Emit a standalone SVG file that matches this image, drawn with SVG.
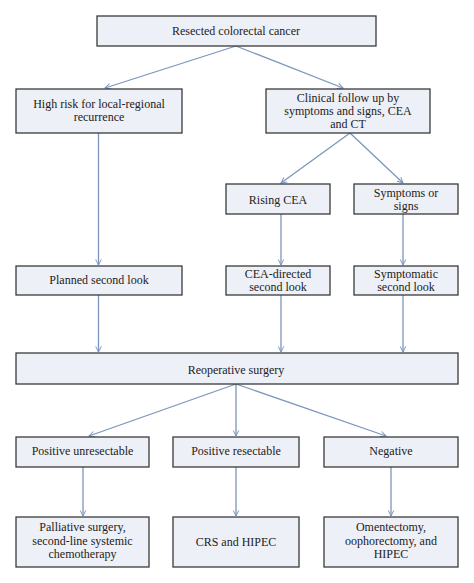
<svg xmlns="http://www.w3.org/2000/svg" width="474" height="583" viewBox="0 0 474 583">
<defs>
<marker id="ah" viewBox="0 0 10 10" refX="9" refY="5" markerWidth="7" markerHeight="7" markerUnits="userSpaceOnUse" orient="auto">
<path d="M1,1 L9,5 L1,9" fill="none" stroke="#7b96bb" stroke-width="1.4"/>
</marker>
<style>
.box{fill:#eef0f7;stroke:#3a3a3a;stroke-width:1.3}
.t{font-family:"Liberation Serif","Times New Roman",serif;font-size:12px;fill:#222;text-anchor:middle}
.c{stroke:#7b96bb;stroke-width:1.3;fill:none;marker-end:url(#ah)}
</style>
</defs>
<rect width="474" height="583" fill="#ffffff"/>
<g id="connectors">
<line class="c" x1="236" y1="46" x2="105" y2="88"/>
<line class="c" x1="236" y1="46" x2="343" y2="88"/>
<line class="c" x1="350" y1="133" x2="281" y2="183"/>
<line class="c" x1="350" y1="133" x2="403" y2="183"/>
<line class="c" x1="98.5" y1="133" x2="98.5" y2="265"/>
<line class="c" x1="281" y1="214" x2="281" y2="265"/>
<line class="c" x1="403" y1="214" x2="403" y2="265"/>
<line class="c" x1="98.5" y1="295" x2="98.5" y2="352"/>
<line class="c" x1="281" y1="295" x2="281" y2="352"/>
<line class="c" x1="403" y1="295" x2="403" y2="352"/>
<line class="c" x1="236" y1="384" x2="89" y2="436"/>
<line class="c" x1="236" y1="384" x2="236" y2="436"/>
<line class="c" x1="236" y1="384" x2="386" y2="436"/>
<line class="c" x1="83" y1="467" x2="83" y2="516"/>
<line class="c" x1="236" y1="467" x2="236" y2="516"/>
<line class="c" x1="391" y1="467" x2="391" y2="516"/>
</g>
<g id="n1"><rect class="box" x="97" y="16" width="279" height="30"/><text class="t" x="236" y="35">Resected colorectal cancer</text></g>
<g id="n2"><rect class="box" x="16" y="89" width="166" height="44"/><text class="t" x="99" y="108">High risk for local-regional</text><text class="t" x="99" y="121">recurrence</text></g>
<g id="n3"><rect class="box" x="266" y="89" width="164" height="44"/><text class="t" x="348" y="102">Clinical follow up by</text><text class="t" x="348" y="115">symptoms and signs, CEA</text><text class="t" x="348" y="128">and CT</text></g>
<g id="n4"><rect class="box" x="226" y="184" width="104" height="30"/><text class="t" x="278" y="204">Rising CEA</text></g>
<g id="n5"><rect class="box" x="354" y="184" width="104" height="30"/><text class="t" x="406" y="197">Symptoms or</text><text class="t" x="406" y="210">signs</text></g>
<g id="n6"><rect class="box" x="16" y="266" width="166" height="29"/><text class="t" x="99" y="284">Planned second look</text></g>
<g id="n7"><rect class="box" x="226" y="266" width="104" height="29"/><text class="t" x="278" y="278">CEA-directed</text><text class="t" x="278" y="291">second look</text></g>
<g id="n8"><rect class="box" x="354" y="266" width="104" height="29"/><text class="t" x="406" y="278">Symptomatic</text><text class="t" x="406" y="291">second look</text></g>
<g id="n9"><rect class="box" x="16" y="353" width="442" height="31"/><text class="t" x="236" y="374">Reoperative surgery</text></g>
<g id="n10"><rect class="box" x="16" y="437" width="133" height="30"/><text class="t" x="82.5" y="455">Positive unresectable</text></g>
<g id="n11"><rect class="box" x="173" y="437" width="126" height="30"/><text class="t" x="236" y="455">Positive resectable</text></g>
<g id="n12"><rect class="box" x="324" y="437" width="134" height="30"/><text class="t" x="391" y="455">Negative</text></g>
<g id="n13"><rect class="box" x="16" y="517" width="133" height="50"/><text class="t" x="82.5" y="531">Palliative surgery,</text><text class="t" x="82.5" y="544.5">second-line systemic</text><text class="t" x="82.5" y="558">chemotherapy</text></g>
<g id="n14"><rect class="box" x="173" y="517" width="126" height="50"/><text class="t" x="236" y="546">CRS and HIPEC</text></g>
<g id="n15"><rect class="box" x="324" y="517" width="134" height="50"/><text class="t" x="391" y="531">Omentectomy,</text><text class="t" x="391" y="544.5">oophorectomy, and</text><text class="t" x="391" y="558">HIPEC</text></g>
</svg>
